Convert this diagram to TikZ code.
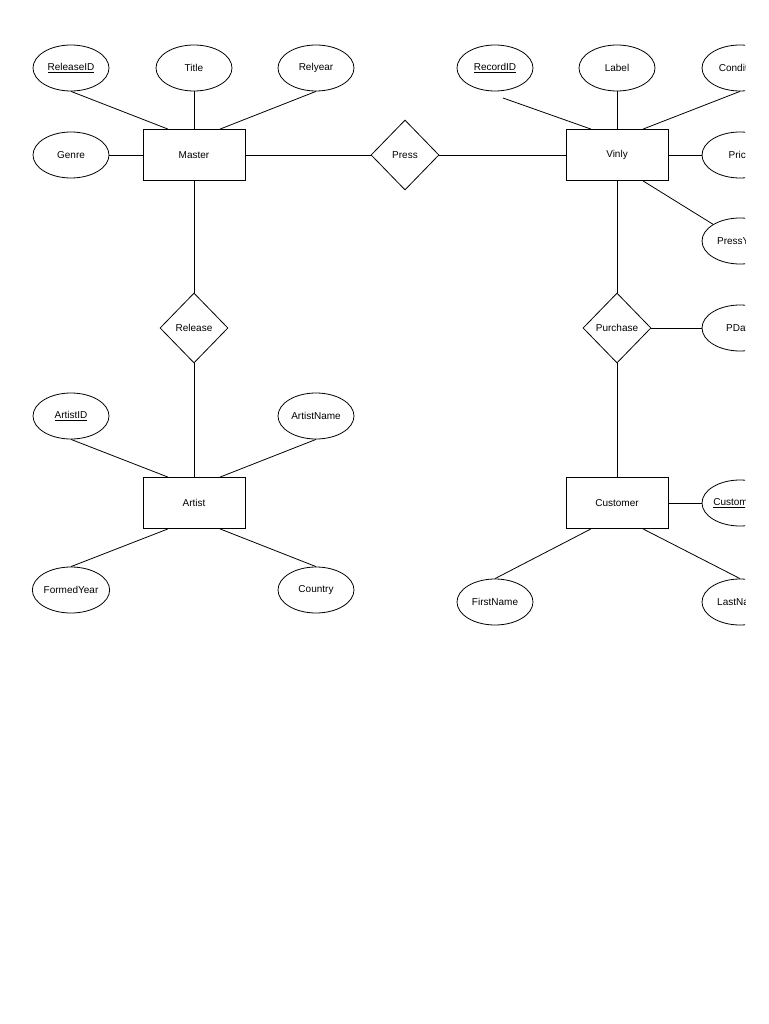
\documentclass[tikz,border=0pt]{standalone}
\usepackage{fontspec}
\setmainfont{Liberation Sans}
\usetikzlibrary{shapes.geometric}
\begin{document}
\begin{tikzpicture}[x=1pt,y=-1pt,line width=0.8pt,
  attr/.style={draw,ellipse,minimum width=76pt,minimum height=46pt,inner sep=0pt,font=\fontsize{10}{12}\selectfont},
  ent/.style={draw,rectangle,minimum width=102pt,minimum height=51pt,inner sep=0pt,font=\fontsize{10}{12}\selectfont},
  rel/.style={draw,diamond,minimum width=68pt,minimum height=70pt,inner sep=0pt,font=\fontsize{10}{12}\selectfont}]
\useasboundingbox (0,0) rectangle (768,1024);
\begin{scope}
\clip (0,0) rectangle (745,1024);
\node[attr] (rid) at (71,68) {\underline{ReleaseID}};
\node[attr] (title) at (194,68) {Title};
\node[attr] (rely) at (316,68) {Relyear};
\node[attr] (genre) at (71,155) {Genre};
\node[ent] (master) at (194,155) {Master};
\node[rel] (press) at (405,155) {Press};
\node[ent] (vinly) at (617,155) {Vinly};
\node[attr] (recid) at (495,68) {\underline{RecordID}};
\node[attr] (label) at (617,68) {Label};
\node[attr] (cond) at (740,68) {Condition};
\node[attr] (price) at (740,155) {Price};
\node[attr] (pyear) at (740,241) {PressYear};
\node[rel] (release) at (194,328) {Release};
\node[rel] (purchase) at (617,328) {Purchase};
\node[attr] (pdate) at (740,328) {PDate};
\node[attr] (aid) at (71,416) {\underline{ArtistID}};
\node[attr] (aname) at (316,416) {ArtistName};
\node[ent] (artist) at (194,503) {Artist};
\node[attr] (fyear) at (71,590) {FormedYear};
\node[attr] (country) at (316,590) {Country};
\node[ent] (cust) at (617,503) {Customer};
\node[attr] (cid) at (740,503) {\underline{CustomerID}};
\node[attr] (fname) at (495,602) {FirstName};
\node[attr] (lname) at (740,602) {LastName};
\coordinate (recs) at (503,98);
\draw (rid.south) -- ([xshift=-26pt]master.north);
\draw (title) -- (master.north);
\draw (rely.south) -- ([xshift=26pt]master.north);
\draw (genre) -- (master);
\draw (master) -- (press);
\draw (press) -- (vinly);
\draw (recs) -- ([xshift=-26pt]vinly.north);
\draw (label) -- (vinly.north);
\draw (cond.south) -- ([xshift=26pt]vinly.north);
\draw (vinly) -- (price);
\draw ([xshift=26pt]vinly.south) -- (pyear);
\draw (master) -- (release);
\draw (release) -- (artist);
\draw (vinly) -- (purchase);
\draw (purchase) -- (cust);
\draw (purchase) -- (pdate);
\draw (aid.south) -- ([xshift=-26pt]artist.north);
\draw (aname.south) -- ([xshift=26pt]artist.north);
\draw (fyear.north) -- ([xshift=-26pt]artist.south);
\draw (country.north) -- ([xshift=26pt]artist.south);
\draw (cust) -- (cid);
\draw (fname.north) -- ([xshift=-26pt]cust.south);
\draw (lname.north) -- ([xshift=26pt]cust.south);
\end{scope}
\end{tikzpicture}
\end{document}
